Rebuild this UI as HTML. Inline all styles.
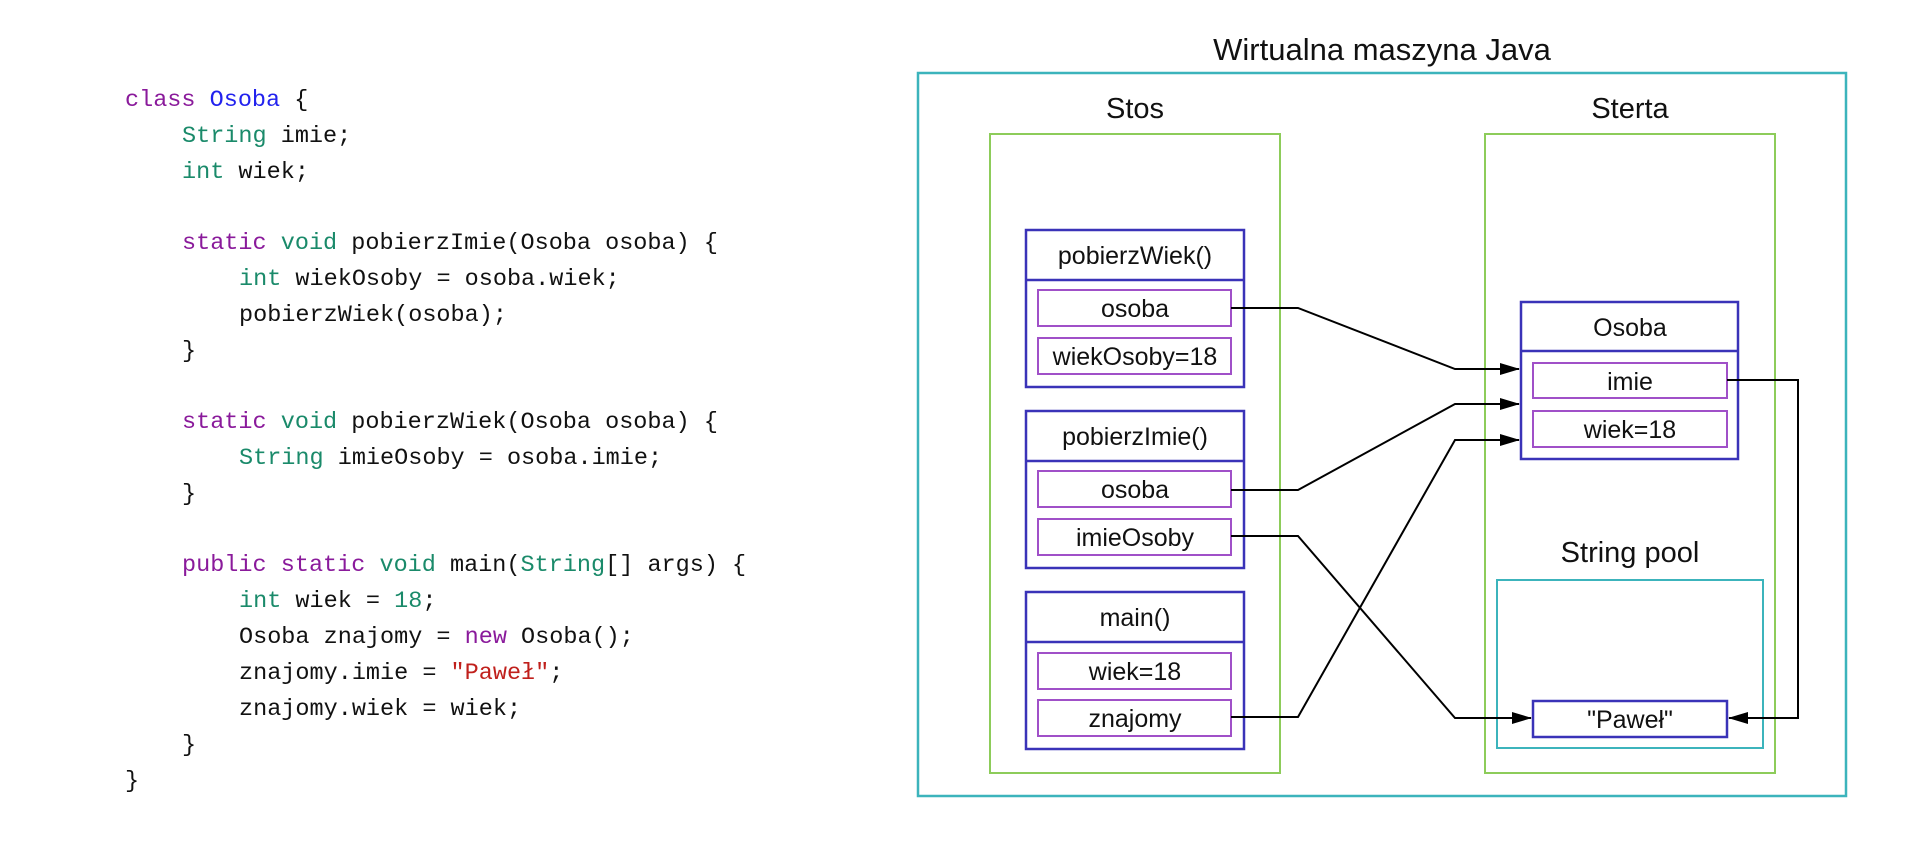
<!DOCTYPE html>
<html><head><meta charset="utf-8"><style>
html,body{margin:0;padding:0;background:#fff;width:1920px;height:846px;overflow:hidden}
svg{display:block}
.code{font-family:"Liberation Mono",monospace;font-size:23.5px;fill:#111}
.k{fill:#8a1a9b}.t{fill:#1a8a6a}.b{fill:#2222ee}.r{fill:#c0201c}
.lbl{font-family:"Liberation Sans",sans-serif;fill:#111;text-anchor:middle}
</style></head><body>
<svg width="1920" height="846" viewBox="0 0 1920 846" xmlns="http://www.w3.org/2000/svg">
<defs>
<marker id="ah" markerWidth="20" markerHeight="12" refX="19" refY="6" orient="auto" markerUnits="userSpaceOnUse" viewBox="0 0 20 12"><path d="M0,0 L20,6 L0,12 z" fill="#000"/></marker></defs>
<g class="code" xml:space="preserve">
<text x="125" y="106"><tspan class="k">class</tspan> <tspan class="b">Osoba</tspan> {</text>
<text x="182" y="142"><tspan class="t">String</tspan> imie;</text>
<text x="182" y="178"><tspan class="t">int</tspan> wiek;</text>
<text x="182" y="249"><tspan class="k">static</tspan> <tspan class="t">void</tspan> pobierzImie(Osoba osoba) {</text>
<text x="239" y="285"><tspan class="t">int</tspan> wiekOsoby = osoba.wiek;</text>
<text x="239" y="321">pobierzWiek(osoba);</text>
<text x="182" y="357">}</text>
<text x="182" y="428"><tspan class="k">static</tspan> <tspan class="t">void</tspan> pobierzWiek(Osoba osoba) {</text>
<text x="239" y="464"><tspan class="t">String</tspan> imieOsoby = osoba.imie;</text>
<text x="182" y="500">}</text>
<text x="182" y="571"><tspan class="k">public</tspan> <tspan class="k">static</tspan> <tspan class="t">void</tspan> main(<tspan class="t">String</tspan>[] args) {</text>
<text x="239" y="607"><tspan class="t">int</tspan> wiek = <tspan class="t">18</tspan>;</text>
<text x="239" y="643">Osoba znajomy = <tspan class="k">new</tspan> Osoba();</text>
<text x="239" y="679">znajomy.imie = <tspan class="r">"Paweł"</tspan>;</text>
<text x="239" y="715">znajomy.wiek = wiek;</text>
<text x="182" y="751">}</text>
<text x="125" y="787">}</text>
</g>
<text class="lbl" x="1382" y="60" font-size="31">Wirtualna maszyna Java</text>
<rect x="918" y="73" width="928" height="723" fill="none" stroke="#3cb4bc" stroke-width="2.5"/>
<text class="lbl" x="1135" y="118" font-size="29">Stos</text>
<text class="lbl" x="1630" y="118" font-size="29">Sterta</text>
<rect x="990" y="134" width="290" height="639" fill="none" stroke="#8dcc5a" stroke-width="2"/>
<rect x="1485" y="134" width="290" height="639" fill="none" stroke="#8dcc5a" stroke-width="2"/>
<text class="lbl" x="1630" y="562" font-size="29">String pool</text>
<rect x="1497" y="580" width="266" height="168" fill="none" stroke="#3cb4bc" stroke-width="2"/>
<g fill="none" stroke="#3a33b8" stroke-width="2.5">
<rect x="1026" y="230" width="218" height="157"/><line x1="1026" y1="280" x2="1244" y2="280"/>
<rect x="1026" y="411" width="218" height="157"/><line x1="1026" y1="461" x2="1244" y2="461"/>
<rect x="1026" y="592" width="218" height="157"/><line x1="1026" y1="642" x2="1244" y2="642"/>
<rect x="1521" y="302" width="217" height="157"/><line x1="1521" y1="351" x2="1738" y2="351"/>
<rect x="1533" y="701" width="194" height="36"/>
</g>
<g fill="none" stroke="#a050c8" stroke-width="2">
<rect x="1038" y="290" width="193" height="36"/><rect x="1038" y="338" width="193" height="36"/>
<rect x="1038" y="471" width="193" height="36"/><rect x="1038" y="519" width="193" height="36"/>
<rect x="1038" y="653" width="193" height="36"/><rect x="1038" y="700" width="193" height="36"/>
<rect x="1533" y="363" width="194" height="35"/><rect x="1533" y="411" width="194" height="36"/>
</g>
<g font-size="25">
<text class="lbl" x="1135" y="264">pobierzWiek()</text>
<text class="lbl" x="1135" y="317">osoba</text>
<text class="lbl" x="1135" y="365">wiekOsoby=18</text>
<text class="lbl" x="1135" y="445">pobierzImie()</text>
<text class="lbl" x="1135" y="498">osoba</text>
<text class="lbl" x="1135" y="546">imieOsoby</text>
<text class="lbl" x="1135" y="626">main()</text>
<text class="lbl" x="1135" y="680">wiek=18</text>
<text class="lbl" x="1135" y="727">znajomy</text>
<text class="lbl" x="1630" y="336">Osoba</text>
<text class="lbl" x="1630" y="390">imie</text>
<text class="lbl" x="1630" y="438">wiek=18</text>
<text class="lbl" x="1630" y="728">"Paweł"</text>
</g>
<g fill="none" stroke="#000" stroke-width="2">
<polyline points="1231,308 1298,308 1455,369 1519,369" marker-end="url(#ah)"/>
<polyline points="1231,490 1298,490 1455,404 1519,404" marker-end="url(#ah)"/>
<polyline points="1231,717 1298,717 1455,440 1519,440" marker-end="url(#ah)"/>
<polyline points="1231,536 1298,536 1455,718 1531,718" marker-end="url(#ah)"/>
<polyline points="1727,380 1798,380 1798,718 1729,718" marker-end="url(#ah)"/>
</g>
</svg>
</body></html>
